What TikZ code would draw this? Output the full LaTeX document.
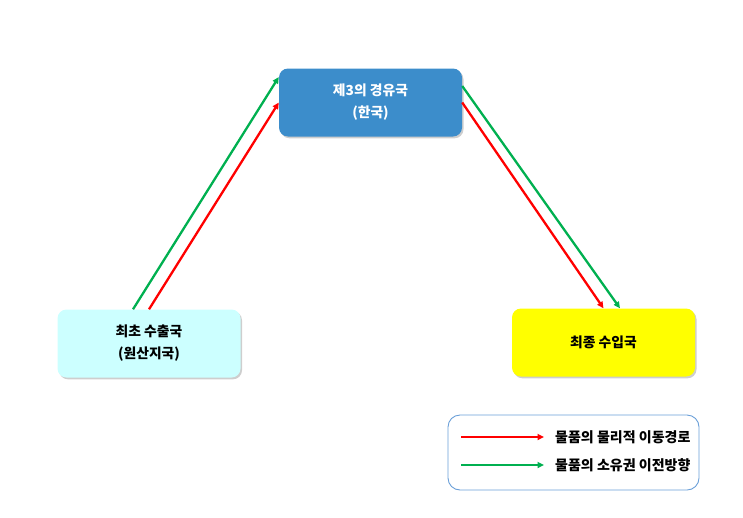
\documentclass[tikz,border=0pt]{standalone}
\usepackage{fontspec}
\setmainfont{Noto Sans CJK KR}
\usetikzlibrary{arrows.meta, shadows, calc}
\definecolor{boxBlue}{HTML}{3C8DCB}
\definecolor{boxCyan}{HTML}{CCFFFF}
\definecolor{boxYellow}{HTML}{FFFF00}
\definecolor{lgBorder}{HTML}{6A9FD8}
\definecolor{arRed}{HTML}{FF0000}
\definecolor{arGreen}{HTML}{00B050}
\tikzset{
  % rounded boxes with a soft shadow, as in the slide
  country/.style  = {rounded corners=9pt, minimum width=183pt, minimum height=68pt,
                     inner sep=0, align=center, font=\fontsize{13.8}{22}\selectfont\bfseries,
                     drop shadow={shadow xshift=1.5pt, shadow yshift=-1.8pt,
                                  opacity=0.35, fill=black!55}},
  route/.style    = {-{Triangle[length=6.5pt, width=6pt]}, line width=2.3pt},
  physical/.style = {route, arRed},
  ownership/.style= {route, arGreen},
  lgtext/.style   = {anchor=west, inner sep=0, font=\fontsize{14}{16}\selectfont\bfseries},
}

\begin{document}
\begin{tikzpicture}[x=1pt, y=-1pt]
  \useasboundingbox (0,0) rectangle (743,517);
  % --- the three countries ---------------------------------------------
  \node[country, fill=boxBlue, text=white] (transit) at (370.5,102.5) {제3의 경유국\\(한국)};
  \node[country, fill=boxCyan] (origin) at (149,343.5) {최초 수출국\\(원산지국)};
  \node[country, fill=boxYellow] (dest) at (603.5,342.5) {최종 수입국};
  % --- routes ----------------------------------------------------------
  \draw[ownership] ([xshift=-16pt]origin.north) -- ([yshift=25.5pt]transit.west);
  \draw[physical]  (origin.north) -- (transit.west);
  \draw[ownership] ([yshift=16.5pt]transit.east) -- ([xshift=16.5pt]dest.north);
  \draw[physical]  (transit.east) -- (dest.north);
  % --- legend ----------------------------------------------------------
  \draw[lgBorder, line width=0.9pt, rounded corners=12pt, fill=white] (448,415) rectangle (699,490);
  \node[lgtext] (physTxt) at (555,437) {물품의 물리적 이동경로};
  \node[lgtext] (ownTxt)  at (555,465) {물품의 소유권 이전방향};
  \coordinate (physStart) at (461,437);
  \coordinate (ownStart)  at (461,465);
  \draw[physical]  (physStart) -- ([xshift=-11pt]physTxt.west);
  \draw[ownership] (ownStart) -- ([xshift=-11pt]ownTxt.west);
\end{tikzpicture}
\end{document}
